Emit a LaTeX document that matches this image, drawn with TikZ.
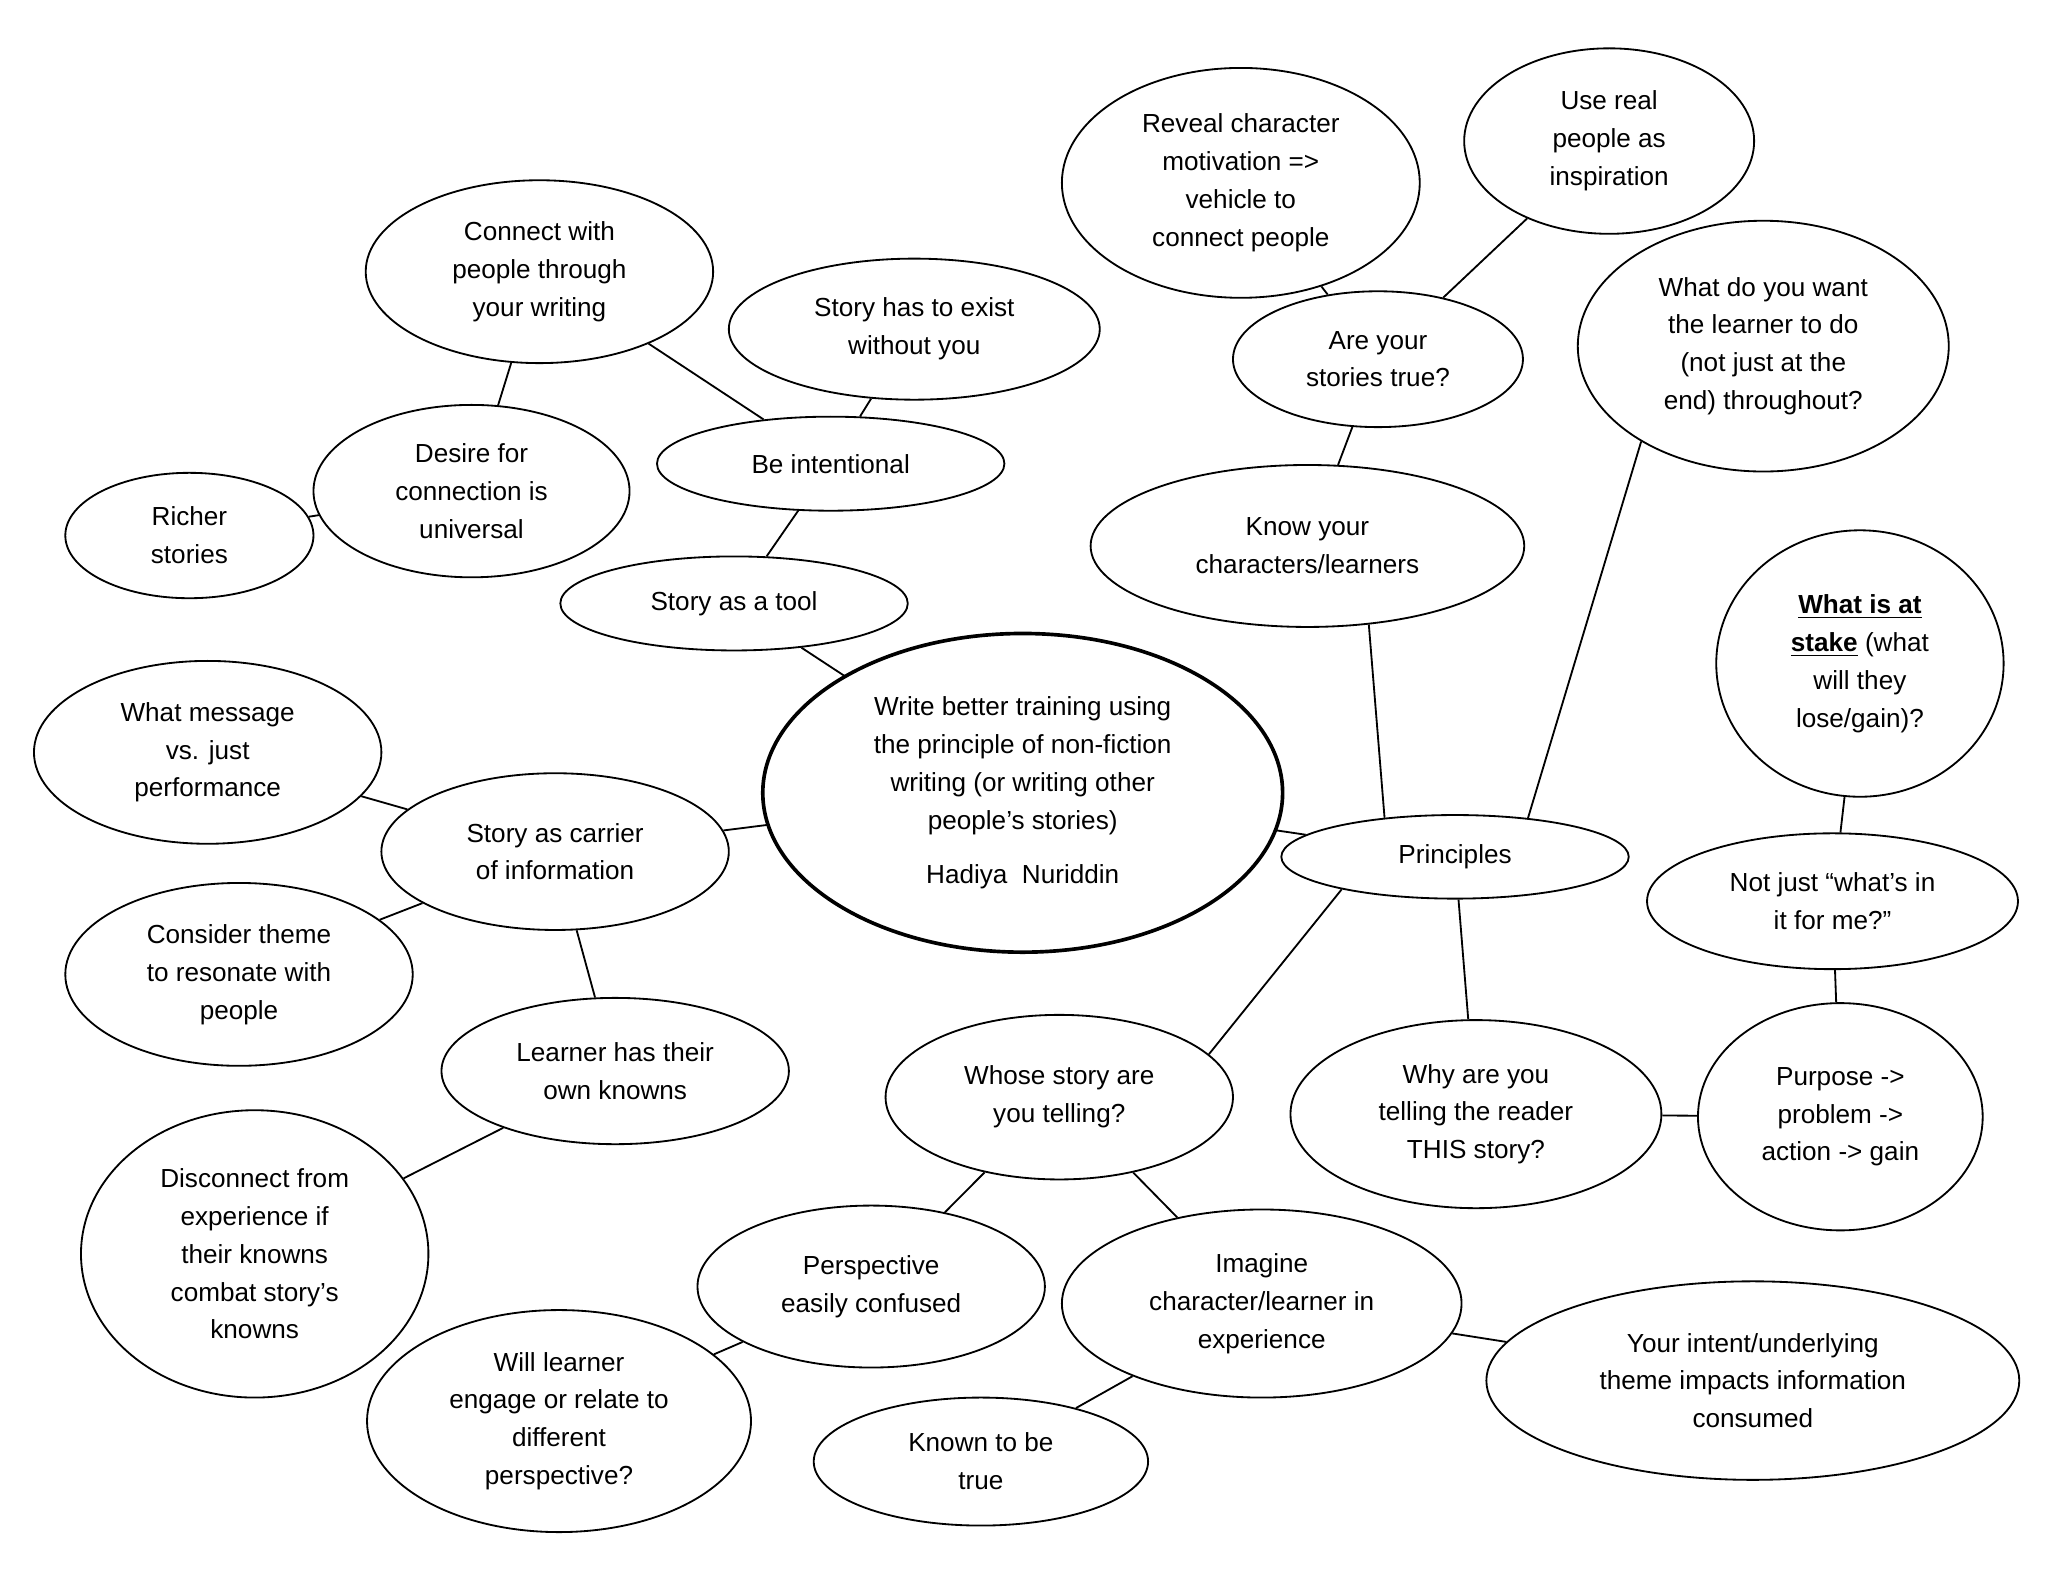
\documentclass[tikz,border=0pt]{standalone}
\usepackage{fontspec}
\setmainfont{Liberation Sans}
\usetikzlibrary{shapes.geometric}
\newcommand{\E}[6]{\node[ell,minimum width={#4*0.5pt},minimum height={#5*0.5pt}] (#1) at (#2,-#3) {#6};}
\begin{document}
\begin{tikzpicture}[x=0.5pt,y=0.5pt,
 ell/.style={ellipse,draw,line width=0.7pt,inner sep=0pt,align=center,font=\fontsize{10}{14.5}\selectfont},
 con/.style={line width=0.7pt}]
\useasboundingbox[fill=white] (0,0) rectangle (1568,-1211);
\E{main}{783}{607}{398}{244}{Write better training using\\the principle of non-fiction\\writing (or writing other\\people’s stories)\\[6pt]Hadiya\ \ Nuriddin}
\node[ellipse,draw,line width=1.4pt,minimum width=199pt,minimum height=122pt] at (main) {};
\E{tool}{562}{462}{266}{72}{Story as a tool}
\E{beint}{636}{355}{266}{72}{Be intentional}
\E{exist}{700}{252}{284}{108}{Story has to exist\\without you}
\E{connect}{413}{208}{266}{140}{Connect with\\people through\\your writing}
\E{desire}{361}{376}{242}{132}{Desire for\\connection is\\universal}
\E{richer}{145}{410}{190}{96}{Richer\\stories}
\E{message}{159}{576}{266}{140}{What message\\vs. just\\performance}
\E{carrier}{425}{652}{266}{120}{Story as carrier\\of information}
\E{consider}{183}{746}{266}{140}{Consider theme\\to resonate with\\people}
\E{learner}{471}{820}{266}{112}{Learner has their\\own knowns}
\E{disc}{195}{960}{266}{220}{Disconnect from\\experience if\\their knowns\\combat story’s\\knowns}
\E{reveal}{950}{140}{274}{176}{Reveal character\\motivation =>\\vehicle to\\connect people}
\E{real}{1232}{108}{222}{142}{Use real\\people as\\inspiration}
\E{true}{1055}{275}{222}{104}{Are your\\stories true?}
\E{whatdo}{1350}{265}{284}{192}{What do you want\\the learner to do\\(not just at the\\end) throughout?}
\E{know}{1001}{418}{332}{124}{Know your\\characters/learners}
\E{stake}{1424}{508}{220}{204}{\textbf{\underline{What is at}}\\\textbf{\underline{stake}} (what\\will they\\lose/gain)?}
\E{prin}{1114}{656}{266}{64}{Principles}
\E{notjust}{1403}{690}{284}{104}{Not just “what’s in\\it for me?”}
\E{why}{1130}{853}{284}{144}{Why are you\\telling the reader\\THIS story?}
\E{purpose}{1409}{855}{218}{174}{Purpose ->\\problem ->\\action -> gain}
\E{whose}{811}{840}{266}{126}{Whose story are\\you telling?}
\E{persp}{667}{985}{266}{124}{Perspective\\easily confused}
\E{imagine}{966}{998}{306}{144}{Imagine\\character/learner in\\experience}
\E{intent}{1342}{1057}{408}{152}{Your intent/underlying\\theme impacts information\\consumed}
\E{will}{428}{1088}{294}{170}{Will learner\\engage or relate to\\different\\perspective?}
\E{known}{751}{1119}{256}{98}{Known to be\\true}
\foreach \a/\b in {main/tool,tool/beint,beint/exist,beint/connect,connect/desire,desire/richer,
 main/carrier,carrier/message,carrier/consider,carrier/learner,learner/disc,
 prin/main,true/know,true/reveal,true/real,prin/why,why/purpose,purpose/notjust,notjust/stake,
 whose/persp,whose/imagine,persp/will,imagine/known,imagine/intent}
 \draw[con] (\a) -- (\b);
\draw[con] (know.308) -- (prin.151);
\draw[con] (prin.28) -- (whatdo.218);
\draw[con] (prin.196) -- (whose.16);
\end{tikzpicture}
\end{document}
